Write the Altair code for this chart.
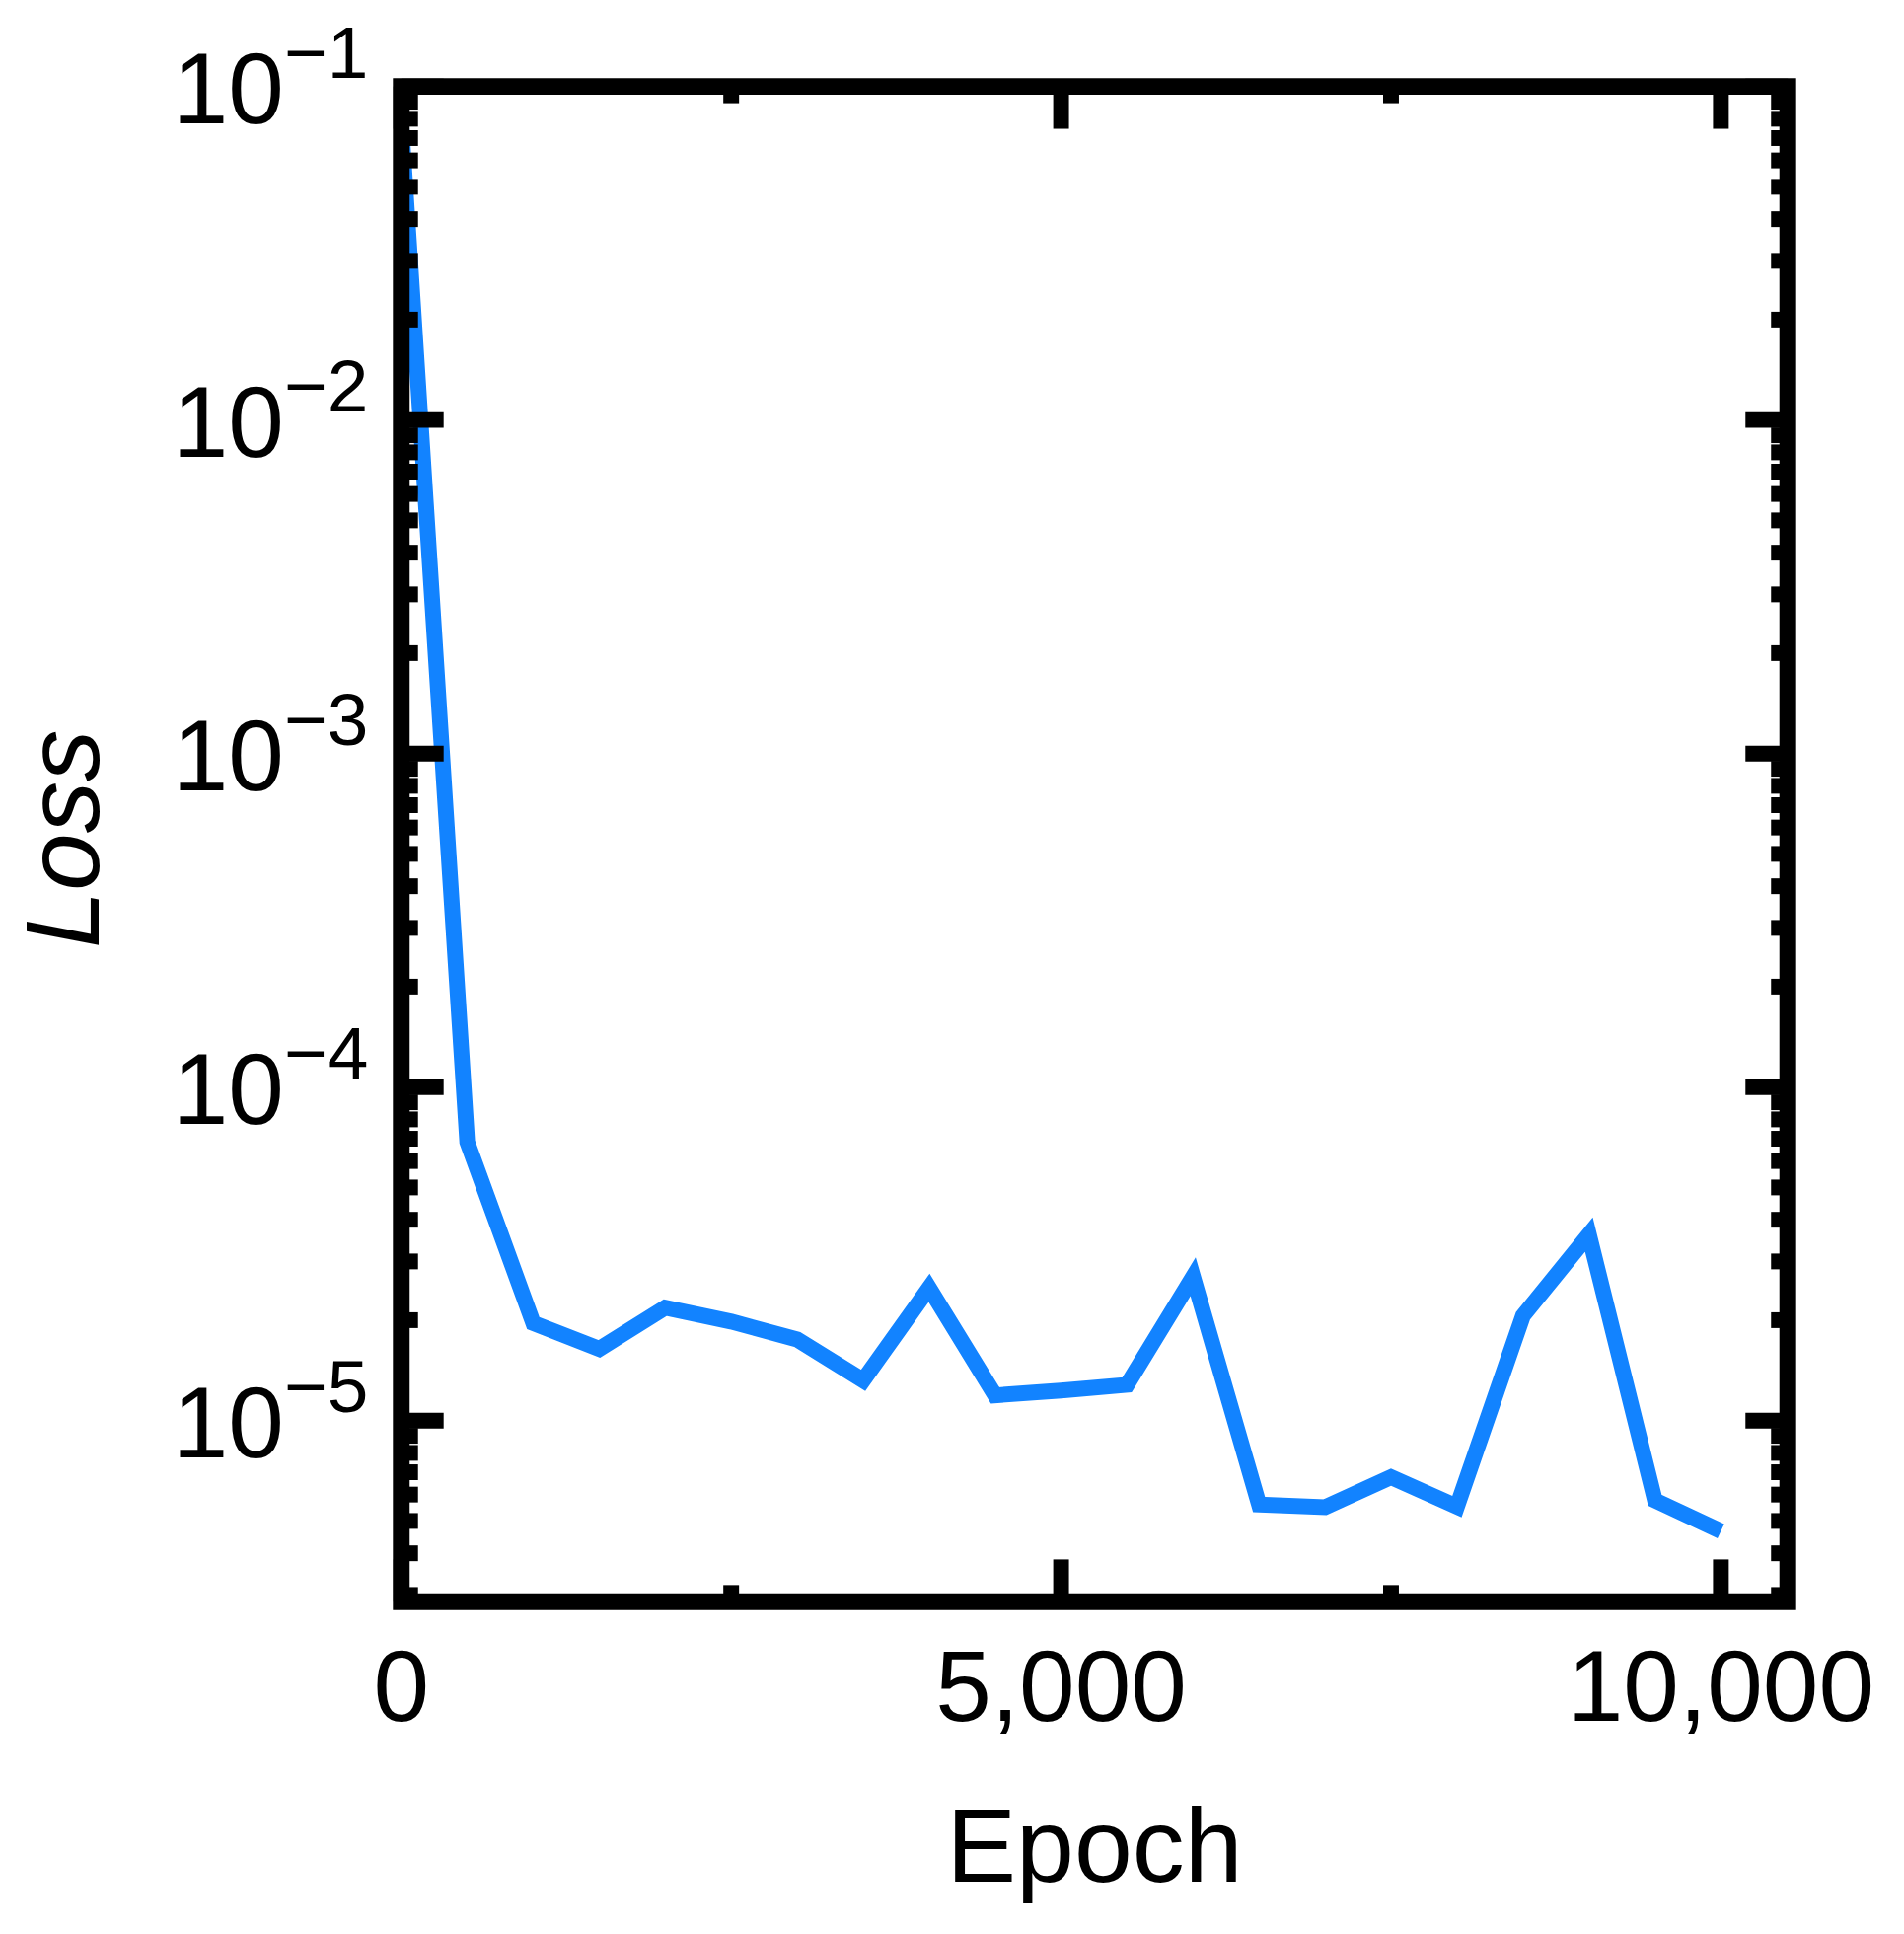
import altair as alt
import pandas as pd

FONT = "Liberation Sans"

# data
epochs = [0, 500, 1000, 1500, 2000, 2500, 3000, 3500, 4000, 4500, 5000,
          5500, 6000, 6500, 7000, 7500, 8000, 8500, 9000, 9500, 10000]
loss = [7.7e-2, 6.84e-5, 1.96e-5, 1.64e-5, 2.18e-5, 1.98e-5, 1.75e-5, 1.32e-5,
        2.50e-5, 1.19e-5, 1.23e-5, 1.28e-5, 2.70e-5, 5.6e-6, 5.5e-6, 6.77e-6,
        5.52e-6, 2.06e-5, 3.61e-5, 5.77e-6, 4.66e-6]

x_major = [0, 5000, 10000]
x_major_labels = ["0", "5,000", "10,000"]
x_minor = [2500, 7500]
y_major = [1e-1, 1e-2, 1e-3, 1e-4, 1e-5]
y_major_base = ["10", "10", "10", "10", "10"]
y_major_exp = ["\u22121", "\u22122", "\u22123", "\u22124", "\u22125"]
y_minor = [m * 10.0 ** k for k in range(-6, -1) for m in range(2, 10)]
x_title = ["Epoch"]
y_title = ["Loss"]

X_DOMAIN = [0, 10507]
Y_DOMAIN = [2.862e-6, 0.1]
y_minor = [v for v in y_minor if Y_DOMAIN[0] < v < Y_DOMAIN[1]]

W, H = 1408, 1538.5
BLUE = "#1283FF"

xscale = alt.Scale(domain=X_DOMAIN, nice=False, zero=False)
yscale = alt.Scale(type="log", domain=Y_DOMAIN, nice=False)

df = pd.DataFrame({"epoch": epochs, "loss": loss})

line = alt.Chart(df).mark_line(
    color=BLUE, strokeWidth=16, strokeJoin="miter", strokeMiterLimit=10, clip=True
).encode(
    x=alt.X("epoch:Q", scale=xscale, axis=None),
    y=alt.Y("loss:Q", scale=yscale, axis=None),
)


def yrules(vals, x0, x1):
    return alt.Chart(pd.DataFrame({"v": vals})).mark_rule(
        color="black", strokeWidth=16).encode(
        y=alt.Y("v:Q", scale=yscale, axis=None),
        x=alt.value(x0), x2=alt.value(x1))


def xrules(vals, y0, y1):
    return alt.Chart(pd.DataFrame({"u": vals})).mark_rule(
        color="black", strokeWidth=16).encode(
        x=alt.X("u:Q", scale=xscale, axis=None),
        y=alt.value(y0), y2=alt.value(y1))


MAJ, MIN = 43, 17
rules = [
    yrules(y_major, 0, MAJ), yrules(y_minor, 0, MIN),
    yrules(y_major, W, W - MAJ), yrules(y_minor, W, W - MIN),
    xrules(x_major, H, H - MAJ), xrules(x_minor, H, H - MIN),
    xrules(x_major, 0, MAJ), xrules(x_minor, 0, MIN),
]

# frame drawn above the line
frame = alt.Chart(pd.DataFrame({"f": [0]})).mark_rect(
    fill="transparent", stroke="black", strokeWidth=17
).encode(x=alt.value(0), x2=alt.value(W), y=alt.value(0), y2=alt.value(H))

lab = pd.DataFrame({"v": y_major, "base": y_major_base, "exp": y_major_exp})
main_lab = alt.Chart(lab).mark_text(
    align="right", baseline="alphabetic", dy=37.5, fontSize=102, font=FONT, color="black"
).encode(y=alt.Y("v:Q", scale=yscale, axis=None), x=alt.value(-119), text="base:N")
sup_lab = alt.Chart(lab).mark_text(
    align="left", baseline="alphabetic", dy=-9, fontSize=75, font=FONT, color="black"
).encode(y=alt.Y("v:Q", scale=yscale, axis=None), x=alt.value(-119), text="exp:N")

xlab = pd.DataFrame({"u": x_major, "t": x_major_labels})
x_lab = alt.Chart(xlab).mark_text(
    align="center", baseline="alphabetic", dy=120.5, fontSize=102, font=FONT, color="black"
).encode(x=alt.X("u:Q", scale=xscale, axis=None), y=alt.value(H), text="t:N")

xt = alt.Chart(pd.DataFrame({"t": x_title})).mark_text(
    align="center", baseline="alphabetic", fontSize=106, font=FONT, color="black"
).encode(x=alt.value(W / 2), y=alt.value(H + 284), text="t:N")

yt = alt.Chart(pd.DataFrame({"t": y_title})).mark_text(
    align="center", baseline="alphabetic", fontSize=105, font=FONT, color="black",
    fontStyle="italic", angle=270
).encode(x=alt.value(-307.5), y=alt.value(764), text="t:N")

chart = alt.layer(line, frame, *rules, main_lab, sup_lab, x_lab, xt, yt).properties(
    width=W, height=H,
    padding={"left": 399.5, "top": 78, "right": 110, "bottom": 320},
    autosize=alt.AutoSizeParams(type="none"),
    background="white",
).configure_view(stroke=None)

chart.save("out.html", embed_options={"renderer": "svg", "actions": False})
